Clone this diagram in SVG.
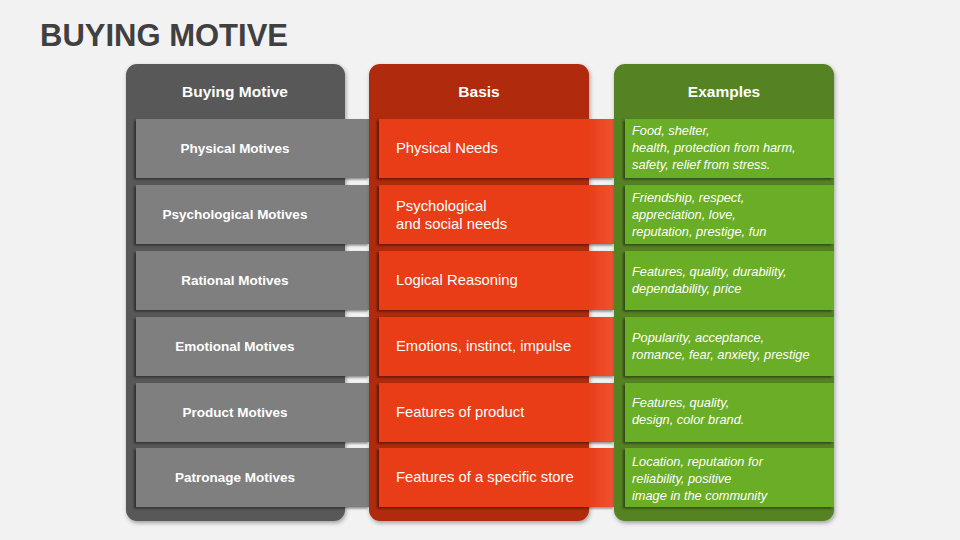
<svg xmlns="http://www.w3.org/2000/svg" width="960" height="540" viewBox="0 0 960 540">
<defs>
<filter id="sh" x="-10%" y="-10%" width="130%" height="130%">
<feDropShadow dx="1" dy="2" stdDeviation="2" flood-color="#000" flood-opacity="0.35"/>
</filter>
<filter id="rs" x="-5%" y="-10%" width="110%" height="130%">
<feDropShadow dx="-2" dy="1.5" stdDeviation="1" flood-color="#000" flood-opacity="0.45"/>
</filter>
<linearGradient id="rg" x1="0" y1="0" x2="1" y2="0">
<stop offset="0" stop-color="#e83c16"/>
<stop offset="0.88" stop-color="#e83c16"/>
<stop offset="1" stop-color="#ef5533"/>
</linearGradient>
<style>
.title{font-family:"Liberation Sans",Arial,sans-serif;font-weight:bold;font-size:31px;fill:#404040}
.hd{font-family:"Liberation Sans",Arial,sans-serif;font-weight:bold;font-size:15.5px;fill:#fff;text-anchor:middle}
.m{font-family:"Liberation Sans",Arial,sans-serif;font-weight:bold;font-size:13.5px;fill:#fff;text-anchor:middle}
.b{font-family:"Liberation Sans",Arial,sans-serif;font-size:14.8px;fill:#fff}
.e{font-family:"Liberation Sans",Arial,sans-serif;font-style:italic;font-size:12.8px;fill:#fff}
.gr{fill:#7f7f7f}
.rr{fill:url(#rg)}
.gn{fill:#6aad28}
</style>
</defs>
<rect width="960" height="540" fill="#f2f2f2"/>
<text class="title" x="40" y="46">BUYING MOTIVE</text>

<g id="col-buying-motive">
<rect x="126" y="64" width="219" height="457" rx="11" fill="#595959" filter="url(#sh)"/>
<text class="hd" x="235" y="97">Buying Motive</text>
</g>
<g id="rows-buying-motive" filter="url(#rs)">
<rect class="gr" x="136" y="119" width="234" height="59"/>
<rect class="gr" x="136" y="185" width="234" height="59"/>
<rect class="gr" x="136" y="251" width="234" height="59"/>
<rect class="gr" x="136" y="317" width="234" height="59"/>
<rect class="gr" x="136" y="383" width="234" height="59"/>
<rect class="gr" x="136" y="448" width="234" height="59"/>
</g>

<g id="col-basis">
<rect x="369" y="64" width="220" height="457" rx="11" fill="#b02a10" filter="url(#sh)"/>
<text class="hd" x="479" y="97">Basis</text>
</g>
<g id="rows-basis" filter="url(#rs)">
<rect class="rr" x="379" y="119" width="236" height="59"/>
<rect class="rr" x="379" y="185" width="236" height="59"/>
<rect class="rr" x="379" y="251" width="236" height="59"/>
<rect class="rr" x="379" y="317" width="236" height="59"/>
<rect class="rr" x="379" y="383" width="236" height="59"/>
<rect class="rr" x="379" y="448" width="236" height="59"/>
</g>

<g id="col-examples">
<rect x="614" y="64" width="220" height="457" rx="11" fill="#548222" filter="url(#sh)"/>
<text class="hd" x="724" y="97">Examples</text>
</g>
<g id="rows-examples" filter="url(#rs)">
<rect class="gn" x="625" y="119" width="209" height="59"/>
<rect class="gn" x="625" y="185" width="209" height="59"/>
<rect class="gn" x="625" y="251" width="209" height="59"/>
<rect class="gn" x="625" y="317" width="209" height="59"/>
<rect class="gn" x="625" y="383" width="209" height="59"/>
<rect class="gn" x="625" y="448" width="209" height="59"/>
</g>

<g id="row-physical">
<text class="m" x="235" y="153">Physical Motives</text>
<text class="b" x="396" y="153">Physical Needs</text>
<text class="e"><tspan x="632" y="135">Food, shelter,</tspan><tspan x="632" y="152">health,  protection from harm,</tspan><tspan x="632" y="169">safety, relief from stress.</tspan></text>
</g>
<g id="row-psychological">
<text class="m" x="235" y="219">Psychological Motives</text>
<text class="b"><tspan x="396" y="211">Psychological</tspan><tspan x="396" y="229">and social needs</tspan></text>
<text class="e"><tspan x="632" y="202">Friendship, respect,</tspan><tspan x="632" y="219">appreciation, love,</tspan><tspan x="632" y="236">reputation, prestige, fun</tspan></text>
</g>
<g id="row-rational">
<text class="m" x="235" y="285">Rational Motives</text>
<text class="b" x="396" y="285">Logical Reasoning</text>
<text class="e"><tspan x="632" y="276">Features, quality, durability,</tspan><tspan x="632" y="293">dependability, price</tspan></text>
</g>
<g id="row-emotional">
<text class="m" x="235" y="351">Emotional Motives</text>
<text class="b" x="396" y="351">Emotions, instinct, impulse</text>
<text class="e"><tspan x="632" y="342">Popularity, acceptance,</tspan><tspan x="632" y="359">romance, fear, anxiety, prestige</tspan></text>
</g>
<g id="row-product">
<text class="m" x="235" y="417">Product Motives</text>
<text class="b" x="396" y="417">Features of product</text>
<text class="e"><tspan x="632" y="407">Features, quality,</tspan><tspan x="632" y="424">design, color brand.</tspan></text>
</g>
<g id="row-patronage">
<text class="m" x="235" y="482">Patronage Motives</text>
<text class="b" x="396" y="482">Features of a specific store</text>
<text class="e"><tspan x="632" y="466">Location, reputation for</tspan><tspan x="632" y="483">reliability, positive</tspan><tspan x="632" y="500">image in the community</tspan></text>
</g>
</svg>
